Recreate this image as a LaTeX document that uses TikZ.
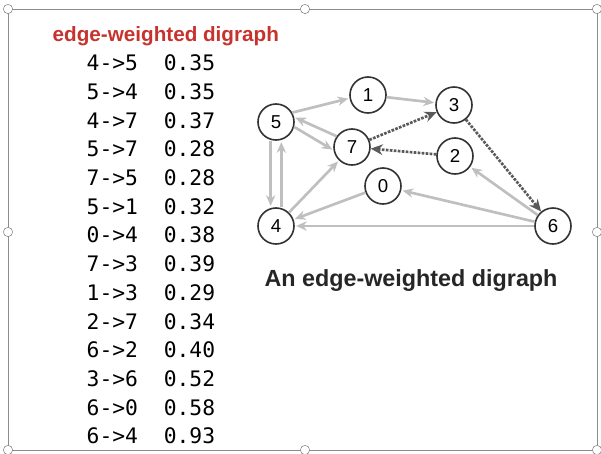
\documentclass[tikz,border=0pt]{standalone}
\usepackage{fontspec}
\setsansfont{Liberation Sans}
\setmonofont{DejaVu Sans Mono}
\usetikzlibrary{arrows.meta}
\definecolor{titlered}{RGB}{200,50,45}
\begin{document}
\begin{tikzpicture}[x=0.75pt,y=-0.75pt,
  vtx/.style={circle,draw=black!80,line width=1.2pt,minimum size=27pt,inner sep=0pt,font=\sffamily\fontsize{14}{14}\selectfont,fill=white},
  e/.style={draw=black!25,line width=2pt,-{Stealth[length=8pt,width=7pt]},shorten >=1pt},
  ed/.style={draw=black!65,line width=2pt,densely dotted,-{Stealth[open,length=9pt,width=8pt]}},
  tbl/.style={anchor=west,font=\ttfamily\fontsize{16}{16}\selectfont},
  handle/.style={circle,draw=black!50,fill=white,inner sep=0pt,minimum size=7pt}]
\useasboundingbox (0,0) rectangle (601,454);
\draw[black!45,line width=0.6pt] (8,9) rectangle (597,450);
\foreach \p [count=\i] in {(8,9),(305,9),(597,9),(8,232),(597,232),(8,450),(305,450),(597,450)}
  \node[handle] (h\i) at \p {};
\node[anchor=west,text=titlered,font=\sffamily\bfseries\fontsize{15.5}{16}\selectfont] (title) at (48,36) {edge-weighted digraph};
\foreach \t [count=\i] in {4->5 \ 0.35,5->4 \ 0.35,4->7 \ 0.37,5->7 \ 0.28,7->5 \ 0.28,5->1 \ 0.32,0->4 \ 0.38,7->3 \ 0.39,1->3 \ 0.29,2->7 \ 0.34,6->2 \ 0.40,3->6 \ 0.52,6->0 \ 0.58,6->4 \ 0.93}
  \node[tbl] (r\i) at (82,{63+(\i-1)*28.7}) {\t};
\node[vtx] (n5) at (276,122) {5};
\node[vtx] (n1) at (368,95) {1};
\node[vtx] (n3) at (454,105) {3};
\node[vtx] (n7) at (352,147) {7};
\node[vtx] (n2) at (455,156) {2};
\node[vtx] (n0) at (383,186) {0};
\node[vtx] (n4) at (276,226) {4};
\node[vtx] (n6) at (553,226) {6};
\draw[e] ([xshift=-4pt]n5.south) -- ([xshift=-4pt]n4.north);
\draw[e] ([xshift=4pt]n4.north) -- ([xshift=4pt]n5.south);
\draw[e] (n4) -- (n7);
\draw[e] (n5.-15) -- (n7.190);
\draw[e] (n7.145) -- (n5.15);
\draw[e] (n5.30) -- (n1.190);
\draw[e] (n0) -- (n4);
\draw[e] (n1) -- (n3);
\draw[e] (n6) -- (n2);
\draw[e] (n6) -- (n0);
\draw[e] (n6) -- (n4);
\draw[ed] (n7) -- (n3);
\draw[ed] (n2) -- (n7);
\draw[ed] (n3) -- (n6);
\node[text=black!85,font=\sffamily\bfseries\fontsize{17.5}{18}\selectfont] (cap) at (411,281) {An edge-weighted digraph};
\end{tikzpicture}
\end{document}
